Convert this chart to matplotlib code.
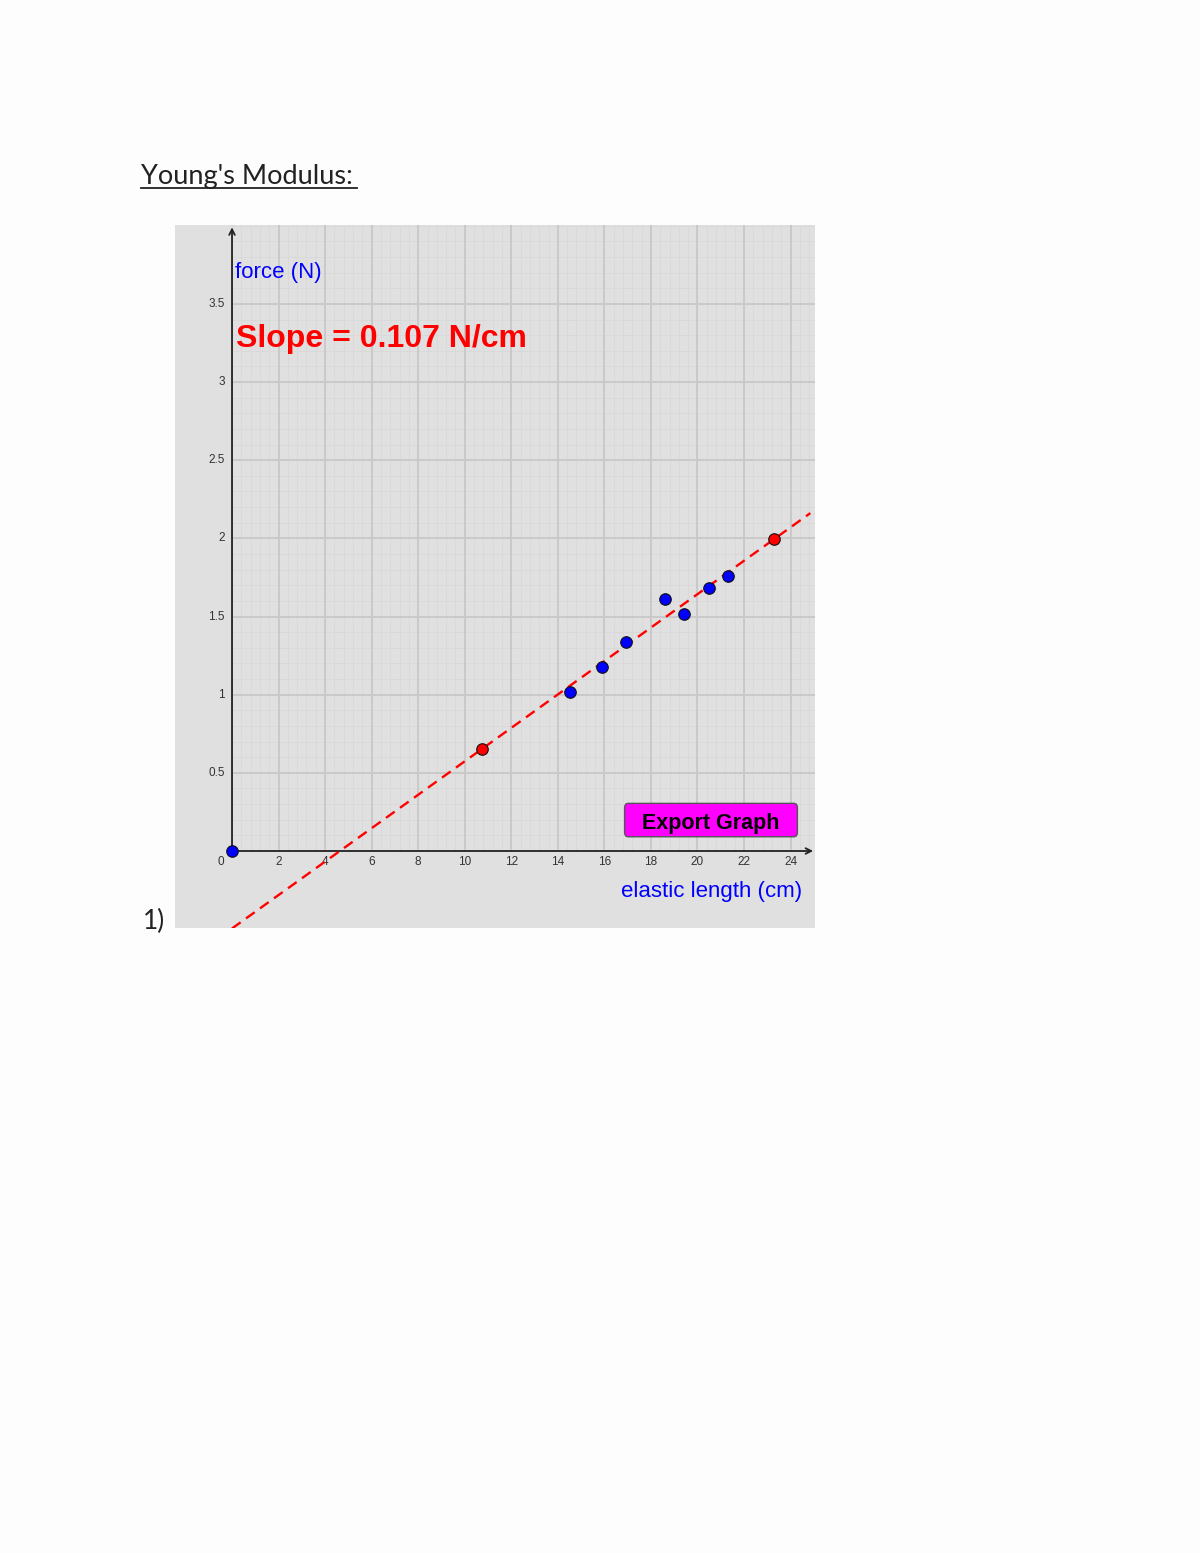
# Young's modulus worksheet: force vs elastic length with fitted line
import numpy as np
import matplotlib.pyplot as plt
from matplotlib.patches import FancyBboxPatch

# measured points (blue) and the two points used for the slope (red)
length_blue = [0.0, 14.53, 15.91, 16.92, 18.61, 19.42, 20.51, 21.31]
force_blue = [0.0, 1.015, 1.175, 1.337, 1.614, 1.514, 1.685, 1.757]
length_red = [10.76, 23.30]
force_red = [0.655, 1.996]

x_ticks = [0, 2, 4, 6, 8, 10, 12, 14, 16, 18, 20, 22, 24]
y_ticks = [0.5, 1, 1.5, 2, 2.5, 3, 3.5]
y_tick_labels = ['0.5', '1', '1.5', '2', '2.5', '3', '3.5']

slope_text = 'Slope = 0.107 N/cm'
x_title = 'elastic length (cm)'
y_title = 'force (N)'

plt.rcParams['font.family'] = ['Liberation Sans', 'DejaVu Sans']

fig = plt.figure(figsize=(12, 15.53), dpi=100)
fig.patch.set_facecolor('#fdfdfd')

# page heading
fig.text(0.1175, 0.8815, "Young's Modulus:", family=['Lato', 'DejaVu Sans'],
         fontsize=19.5, color='#222222', va='baseline', ha='left')
fig.add_artist(plt.Line2D([0.1175, 0.2975], [0.8792, 0.8792], color='#222222', lw=1.3))
fig.text(0.119, 0.4015, '1)', family=['Lato', 'DejaVu Sans'], fontsize=19,
         color='#222222', va='baseline', ha='left')

ax = fig.add_axes([0.14583, 0.40245, 0.53333, 0.45267])
ax.set_facecolor('#e0e0e0')
ax.set_xlim(-2.45, 25.05)
ax.set_ylim(-0.4926, 4.005)
for s in ax.spines.values():
    s.set_visible(False)
ax.set_xticks([])
ax.set_yticks([])

# grid only in the first quadrant
xmax, ymax = 25.05, 4.005
minor_x = np.arange(0, xmax, 0.4)
minor_y = np.arange(0, ymax, 0.1)
ax.vlines(minor_x, 0, ymax, color='#d8d8d8', lw=0.6, zorder=1)
ax.hlines(minor_y, 0, xmax, color='#d8d8d8', lw=0.6, zorder=1)
ax.vlines(x_ticks[1:], 0, ymax, color='#c8c8c8', lw=1.3, zorder=2)
ax.hlines(y_ticks, 0, xmax, color='#c8c8c8', lw=1.3, zorder=2)

# axes with arrows
ax.annotate('', xy=(24.97, 0), xytext=(0, 0),
            arrowprops=dict(arrowstyle='->', color='#222222', lw=1.3, shrinkA=0, shrinkB=0), zorder=3)
ax.annotate('', xy=(0, 3.99), xytext=(0, 0),
            arrowprops=dict(arrowstyle='->', color='#222222', lw=1.3, shrinkA=0, shrinkB=0), zorder=3)

# tick labels
for xv in x_ticks:
    xp = -0.47 if xv == 0 else xv
    ax.text(xp, -0.07, str(xv), fontsize=8.5, color='#333333', ha='center', va='center')
for yv, lab in zip(y_ticks, y_tick_labels):
    ax.text(-0.3, yv, lab, fontsize=8.5, color='#333333', ha='right', va='center')

# fitted line through the red points
slope = (force_red[1] - force_red[0]) / (length_red[1] - length_red[0])
fit_x = np.array([0.0, 24.85])
fit_y = force_red[0] + slope * (fit_x - length_red[0])
ax.plot(fit_x, fit_y, color='#ff0000', lw=1.7, dashes=(4.5, 2.8), zorder=4)

ax.plot(length_blue, force_blue, 'o', color='#0000ff', mec='#111111', mew=0.8, ms=8.3,
        zorder=5, clip_on=False)
ax.plot(length_red, force_red, 'o', color='#ff0000', mec='#111111', mew=0.8, ms=8.3, zorder=5)

ax.text(0.13, 3.70, y_title, color='#0000ff', fontsize=16, ha='left', va='center')
ax.text(24.5, -0.26, x_title, color='#0000ff', fontsize=16, ha='right', va='center')
ax.text(0.17, 3.275, slope_text, color='#ff0000', fontsize=23, fontweight='bold',
        ha='left', va='center')

# export button
btn = FancyBboxPatch((0.5205, 0.4612), 0.1440, 0.0215, transform=fig.transFigure,
                     boxstyle='round,pad=0,rounding_size=0.003', fc='#ff00ff',
                     ec='#555555', lw=1.0)
fig.add_artist(btn)
fig.text(0.5925, 0.4697, 'Export Graph', fontsize=15.5, fontweight='bold',
         color='#000000', ha='center', va='center')

fig.savefig('out.png', dpi=100, facecolor=fig.get_facecolor())
